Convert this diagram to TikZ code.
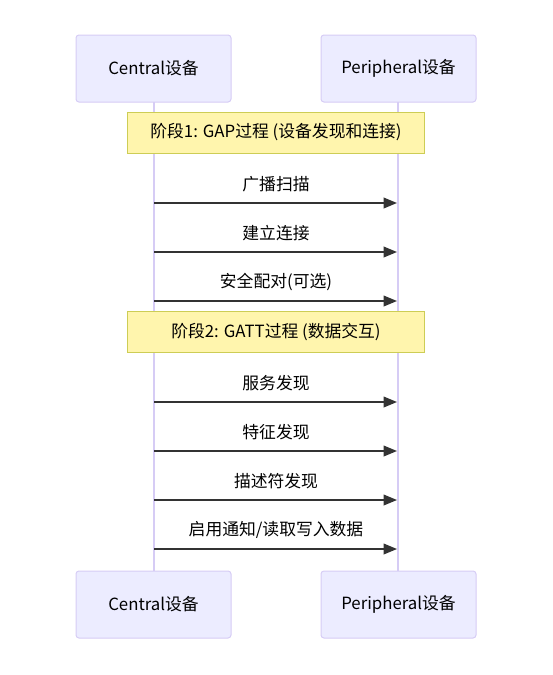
\documentclass[tikz,border=0pt]{standalone}
\usepackage{fontspec}
\setmainfont{Noto Sans CJK SC}
\usetikzlibrary{arrows.meta}
\definecolor{actfill}{HTML}{ECECFF}
\definecolor{actline}{HTML}{D6CCF5}
\definecolor{notefill}{HTML}{FFF5AD}
\definecolor{noteline}{HTML}{CDCD55}
\definecolor{msg}{HTML}{333333}
\tikzset{
  actor/.style={draw=actline, fill=actfill, rounded corners=2.2pt, line width=0.75pt,
    minimum width=155*0.75pt, minimum height=67*0.75pt, inner sep=0pt,
    font=\fontsize{12.6}{14}\selectfont, text=black},
  notebox/.style={draw=noteline, fill=notefill, line width=0.75pt,
    minimum width=297*0.75pt, minimum height=41*0.75pt, inner sep=0pt,
    font=\fontsize{12.6}{14}\selectfont, text=black},
  lifeline/.style={draw=actline, line width=1.1pt},
  msgarrow/.style={draw=msg, line width=1.1pt, -{Triangle[length=10pt,width=8pt]}},
  msglabel/.style={font=\fontsize{12.6}{14}\selectfont, text=black, inner sep=0pt}
}
\begin{document}
\begin{tikzpicture}[x=0.75pt, y=-0.75pt]
\useasboundingbox (0,0) rectangle (553,675);
% lifelines
\coordinate (ct) at (154,102);
\coordinate (cb) at (154,571);
\coordinate (pt) at (398,102);
\coordinate (pb) at (398,571);
\draw[lifeline] (ct) -- (cb);
\draw[lifeline] (pt) -- (pb);
% actors
\node[actor] (c1) at (153.5,68.5) {Central设备};
\node[actor] (p1) at (398.5,68.5) {Peripheral设备};
\node[actor] (c2) at (153.5,604.5) {Central设备};
\node[actor] (p2) at (398.5,604.5) {Peripheral设备};
% notes
\node[notebox] (n1) at (276,132.5) {阶段1: GAP过程 (设备发现和连接)};
\node[notebox] (n2) at (276,332) {阶段2: GATT过程 (数据交互)};
% messages
\foreach \y/\t [count=\i] in {203/{广播扫描}, 252/{建立连接}, 301/{安全配对(可选)}, 402/{服务发现}, 451/{特征发现}, 500/{描述符发现}, 549/{启用通知/读取写入数据}}{
  \coordinate (ms\i) at (154,\y);
  \coordinate (me\i) at (397,\y);
  \draw[msgarrow] (ms\i) -- (me\i);
  \node[msglabel] (ml\i) at (276,\y-19) {\t};
}
\end{tikzpicture}
\end{document}
